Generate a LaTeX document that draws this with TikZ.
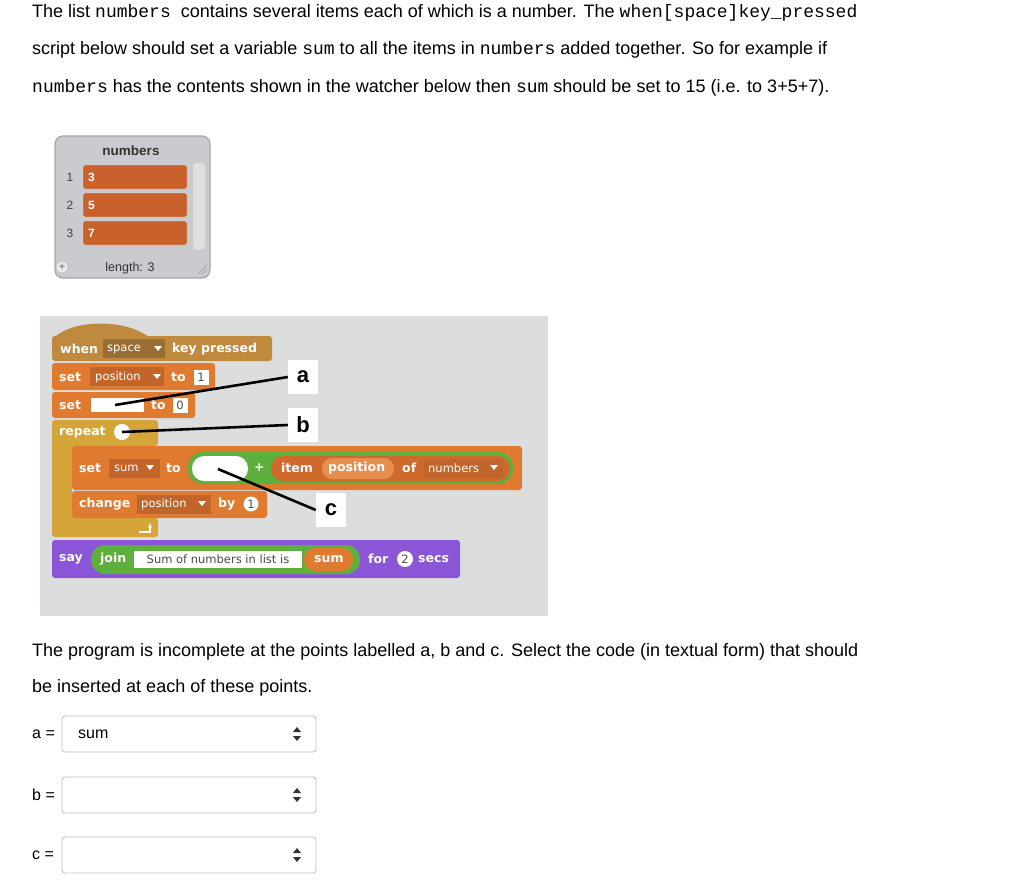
\documentclass[tikz,border=0pt]{standalone}
\usepackage{fontspec}
\usetikzlibrary{arrows.meta}
\setmainfont{Liberation Sans}
\newfontfamily\mono{Liberation Mono}
\newfontfamily\blkfont{DejaVu Sans}
\definecolor{panel}{HTML}{DCDDDD}
\definecolor{watch}{HTML}{C9CBCE}
\definecolor{itemc}{HTML}{C8612B}
\definecolor{hatc}{HTML}{C08A3E}
\definecolor{varc}{HTML}{E07A2F}
\definecolor{vard}{HTML}{C2652A}
\definecolor{ctrlc}{HTML}{D5A53A}
\definecolor{opc}{HTML}{5DB03C}
\definecolor{listc}{HTML}{D0692C}
\definecolor{lookc}{HTML}{8A55D7}
\begin{document}
\begin{tikzpicture}[x=1pt,y=-1pt,
  txt/.style={anchor=west,inner sep=0,font=\fontsize{18}{20}\selectfont},
  bt/.style={anchor=west,inner sep=0,text=white,font=\blkfont\bfseries\fontsize{12.5}{14}\selectfont},
  dt/.style={anchor=west,inner sep=0,text=white,font=\blkfont\fontsize{11.5}{13}\selectfont},
  wt/.style={anchor=center,inner sep=0,text=black!70,font=\blkfont\fontsize{11.5}{13}\selectfont},
  lab/.style={fill=white,minimum width=30,minimum height=34,inner sep=0,font=\bfseries\fontsize{22}{24}\selectfont},
  ptr/.style={line width=2.6pt},
  sel/.style={draw=black!25,rounded corners=3pt,line width=0.8pt,fill=white},
  dd/.style={fill=white}]
\useasboundingbox (0,0) rectangle (1024,889);
\fill[white] (0,0) rectangle (1024,889);
% intro text
\node[txt] (t1) at (32,13) {The list \mono numbers\rmfamily\ \ contains several items each of which is a number. The \mono when[space]key\_pressed};
\node[txt] (t2) at (32,50) {script below should set a variable \mono sum\rmfamily\ to all the items in \mono numbers\rmfamily\ added together. So for example if};
\node[txt] (t3) at (32,88) {\mono numbers\rmfamily\ has the contents shown in the watcher below then \mono sum\rmfamily\ should be set to 15 (i.e. to 3+5+7).};
% watcher
\draw[fill=watch,draw=black!35,line width=1.2pt,rounded corners=8pt] (55,136) rectangle (210,278);
\fill[black!12,rounded corners=4pt] (193,163) rectangle (205,250);
\node[font=\bfseries\fontsize{13.5}{15}\selectfont,text=black!80] (wtitle) at (131,151) {numbers};
\foreach \i/\v/\y in {1/3/177,2/5/205,3/7/233}{
  \fill[itemc,draw=white!80!itemc,rounded corners=2pt] (83,\y-12) rectangle (187,\y+12);
  \node[font=\fontsize{12}{14}\selectfont,text=black!75] (idx\i) at (70,\y) {\i};
  \node[anchor=west,inner sep=0,text=white,font=\bfseries\fontsize{12}{14}\selectfont] (item\i) at (88,\y) {\v};
}
\draw[black!30,fill=black!8] (62,267) circle (6);
\node[text=black!45,font=\bfseries\fontsize{11}{11}\selectfont] (plus) at (62,267) {+};
\node[font=\fontsize{12.5}{14}\selectfont,text=black!80] (len) at (130,268) {length: 3};
\draw[black!40] (198,274) -- (207,265) (202,274) -- (207,269);
% panel
\fill[panel] (40,316) rectangle (548,616);
% hat block
\fill[hatc,rounded corners=3pt] (52,336) rectangle (272,361);
\fill[hatc] (52,340) .. controls (70,318) and (130,318) .. (152,340) -- cycle;
\node[bt] (when) at (60,349) {when};
\fill[black!20!hatc] (103,339) rectangle (165,358);
\node[dt] (space) at (107,349) {space};
\fill[white] (154,346) -- (162,346) -- (158,351) -- cycle;
\node[bt] (key) at (172,349) {key pressed};
% set position to 1
\fill[varc,rounded corners=3pt] (52,363) rectangle (215,390);
\fill[vard] (90,367) rectangle (164,386);
\node[bt] (set1) at (59,377) {set};
\node[dt] (pos1) at (95,377) {position};
\fill[white] (153,374) -- (161,374) -- (157,379) -- cycle;
\node[bt] (to1) at (171,377) {to};
\node[dd,minimum width=15,minimum height=15,inner sep=0,wt] (one) at (201,377) {1};
% set [ ] to 0
\fill[varc,rounded corners=3pt] (52,392) rectangle (195,418);
\node[bt] (set2) at (59,405) {set};
\fill[white] (91,398) rectangle (144,412);
\coordinate (blankA) at (115,405);
\node[bt] (to2) at (151,405) {to};
\node[dd,minimum width=15,minimum height=15,inner sep=0,wt] (zero) at (180,405) {0};
% repeat
\fill[ctrlc,rounded corners=3pt] (52,420) -- (158,420) -- (158,446) -- (72,446) -- (72,518) -- (158,518) -- (158,537) -- (52,537) -- cycle;
\node[bt] (rep) at (59,432) {repeat};
\fill[white] (122,432) circle (8);
\coordinate (blankB) at (122,432);
\draw[white,line width=2pt,-{Stealth[length=5pt]}] (139,532) -- (150,532) -- (150,523);
% set sum to
\fill[varc,rounded corners=3pt] (72,446) rectangle (522,490);
\node[bt] (set3) at (79,468) {set};
\fill[vard] (109,459) rectangle (160,478);
\node[dt] (sum1) at (114,468) {sum};
\fill[white] (146,465) -- (154,465) -- (150,470) -- cycle;
\node[bt] (to3) at (166,468) {to};
\fill[opc,rounded corners=15pt] (188,452) rectangle (513,484);
\fill[white,rounded corners=12pt] (192,456) rectangle (248,481);
\coordinate (blankC) at (218,469);
\node[bt] (plus2) at (254,468) {+};
\fill[listc,rounded corners=12pt] (271,456) rectangle (510,481);
\node[bt] (itemw) at (281,468) {item};
\fill[varc!85!white,rounded corners=10pt] (322,458) rectangle (394,479);
\node[bt] (posr) at (328,468) {position};
\node[bt] (of) at (402,468) {of};
\fill[vard] (424,459) rectangle (503,478);
\node[dt] (nums) at (428,468) {numbers};
\fill[white] (490,465) -- (498,465) -- (494,470) -- cycle;
% change
\fill[varc,rounded corners=3pt] (72,491) rectangle (267,518);
\node[bt] (chg) at (79,504) {change};
\fill[vard] (137,495) rectangle (211,514);
\node[dt] (pos2) at (141,504) {position};
\fill[white] (198,501) -- (206,501) -- (202,506) -- cycle;
\node[bt] (by) at (218,504) {by};
\node[circle,fill=white,minimum size=15,inner sep=0,wt] (byone) at (251,504) {1};
% say
\fill[lookc,rounded corners=3pt] (52,540) rectangle (460,578);
\node[bt] (say) at (59,559) {say};
\fill[opc,rounded corners=14pt] (91,545) rectangle (360,574);
\node[bt] (join) at (100,559) {join};
\node[dd,minimum width=168,minimum height=17,inner sep=0,wt] (str) at (218,559) {Sum of numbers in list is};
\fill[varc,rounded corners=11pt] (304,548) rectangle (353,571);
\node[bt] (sumr) at (314,559) {sum};
\node[bt] (for) at (368,559) {for};
\node[circle,fill=white,minimum size=16,inner sep=0,wt] (two) at (405,559) {2};
\node[bt] (secs) at (418,559) {secs};
% labels
\node[lab] (la) at (303,377) {a};
\node[lab] (lb) at (303,425) {b};
\node[lab] (lc) at (331,510) {c};
\draw[ptr] (blankA) -- (la.west);
\draw[ptr] (blankB) -- (lb.west);
\draw[ptr] (blankC) -- (lc.west);
% bottom text
\node[txt] (t4) at (32,652) {The program is incomplete at the points labelled a, b and c. Select the code (in textual form) that should};
\node[txt] (t5) at (32,688) {be inserted at each of these points.};
\foreach \n/\y/\v in {a/734/sum,b/795/{},c/855/{}}{
  \node[txt,font=\fontsize{16}{18}\selectfont] (q\n) at (32,\y) {\n\ =};
  \draw[sel] (62,\y-18) rectangle (316,\y+18);
  \node[txt,font=\fontsize{16}{18}\selectfont] (v\n) at (78,\y) {\v};
  \fill[black!80] (293,\y-2) -- (301,\y-2) -- (297,\y-7) -- cycle;
  \fill[black!80] (293,\y+2) -- (301,\y+2) -- (297,\y+7) -- cycle;
}
\end{tikzpicture}
\end{document}
